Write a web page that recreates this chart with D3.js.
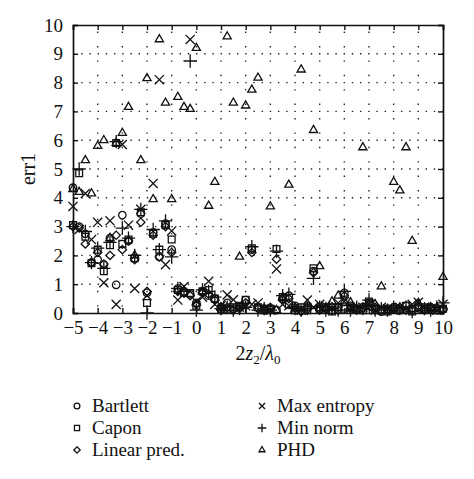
<!DOCTYPE html>
<html>
<head>
<meta charset="utf-8">
<script src="https://cdn.jsdelivr.net/npm/d3@7/dist/d3.min.js"></script>
<style>
  body { margin: 0; background: #fff; }
  svg text { font-family: "Liberation Serif", "Times New Roman", Times, serif; fill: #111; font-weight: normal; }
</style>
</head>
<body>
<div id="chart"></div>
<script>
// x positions shared by every method (step of 0.25 from -5 to 10)
var xs = d3.range(61).map(function(i) { return -5 + i * 0.25; });

var bartlett = [4.35, 3.0, 2.75, 1.75, 1.85, 1.68, 2.6, 0.98, 3.4, 2.5, 1.9, 3.45, 0.7, 2.8, 1.95, 3.1, 2.2, 0.85, 0.75, 0.65,
  0.35, 0.75, 0.6, 0.5, 0.2, 0.35, 0.15, 0.2, 0.45, 2.2, 0.2, 0.15, 0.1, 0.1, 0.5, 0.6, 0.25, 0.1, 0.15, 1.45,
  0.2, 0.15, 0.1, 0.2, 0.7, 0.25, 0.15, 0.2, 0.35, 0.1, 0.05, 0.15, 0.2, 0.15, 0.25, 0.1, 0.2, 0.15, 0.2, 0.1, 0.15];
var capon = [3.05, 4.85, 2.65, 1.73, 2.2, 1.45, 2.35, 5.9, 2.4, 2.55, 1.9, 3.5, 0.35, 2.75, 2.2, 3.05, 2.55, 0.8, 0.7, 0.69,
  0.25, 0.75, 0.8, 0.5, 0.15, 0.15, 0.2, 0.25, 0.46, 2.25, 0.2, 0.1, 0.15, 2.22, 0.55, 0.3, 0.1, 0.2, 0.1, 1.55,
  0.15, 0.2, 0.05, 0.2, 0.15, 0.2, 0.15, 0.1, 0.4, 0.15, 0.1, 0.05, 0.15, 0.1, 0.25, 0.05, 0.2, 0.2, 0.15, 0.1, 0.15];
var linearPred = [3.0, 2.95, 2.4, 1.75, 2.1, 1.7, 2.0, 2.7, 2.2, 2.5, 1.85, 3.15, 0.75, 2.7, 1.95, 3.0, 2.1, 0.75, 0.7, 0.6,
  0.3, 0.7, 0.65, 0.45, 0.1, 0.2, 0.1, 0.15, 0.35, 2.1, 0.15, 0.1, 0.2, 1.87, 0.45, 0.5, 0.2, 0.05, 0.2, 1.4,
  0.1, 0.15, 0.2, 0.1, 0.6, 0.15, 0.1, 0.15, 0.3, 0.2, 0.1, 0.1, 0.15, 0.2, 0.1, 0.15, 0.25, 0.1, 0.15, 0.2, 0.1];
var maxEntropy = [3.7, 2.9, 4.15, 2.55, 3.15, 1.05, 3.2, 0.3, 5.85, 3.05, 0.85, 3.6, 0.6, 4.5, 8.1, 1.68, 2.85, 0.45, 0.92, 9.5,
  0.4, 0.55, 1.1, 0.3, 0.25, 0.63, 0.46, 0.2, 0.25, 0.3, 0.35, 0.15, 0.1, 1.53, 0.3, 0.25, 0.15, 0.1, 0.45, 0.2,
  0.3, 0.25, 0.15, 0.35, 0.4, 0.2, 0.15, 0.2, 0.3, 0.1, 0.2, 0.15, 0.1, 0.2, 0.15, 0.3, 0.37, 0.2, 0.15, 0.1, 0.3];
var minNorm = [3.0, 5.0, 2.83, 1.75, 2.25, 1.55, 2.45, 5.95, 2.95, 2.6, 2.0, 3.6, 0.0, 2.9, 2.2, 3.2, 1.95, 0.85, 0.75, 8.75,
  0.1, 0.8, 0.75, 0.55, 0.15, 0.2, 0.1, 0.15, 0.2, 2.3, 0.1, 0.15, 0.1, 2.15, 0.6, 0.65, 0.15, 0.1, 0.15, 1.2,
  0.2, 0.1, 0.15, 0.1, 0.75, 0.1, 0.2, 0.15, 0.45, 0.1, 0.15, 0.1, 0.2, 0.15, 0.2, 0.05, 0.25, 0.15, 0.1, 0.2, 0.35];
var phd = [4.3, 4.2, 5.3, 4.15, 5.8, 6.0, 2.6, 5.9, 6.25, 7.15, 2.0, 5.3, 8.15, 3.95, 9.5, 7.3, 3.95, 7.5, 7.15, 7.08,
  9.2, 0.75, 3.72, 4.55, 0.2, 9.6, 7.3, 1.95, 7.2, 7.75, 8.17, 0.15, 3.7, 0.1, 0.55, 4.45, 0.15, 8.45, 0.3, 6.35,
  1.62, 0.2, 0.4, 0.6, 0.4, 0.37, 0.15, 5.75, 0.2, 0.3, 0.92, 0.1, 4.55, 4.25, 5.75, 2.5, 0.35, 0.1, 0.2, 0.15, 1.25];

var xTicks = d3.range(-5, 11, 1);
var yTicks = d3.range(0, 11, 1);

var series = [
  { name: "Bartlett", shape: "circle", values: bartlett },
  { name: "Capon", shape: "square", values: capon },
  { name: "Linear pred.", shape: "diamond", values: linearPred },
  { name: "Max entropy", shape: "cross", values: maxEntropy },
  { name: "Min norm", shape: "plus", values: minNorm },
  { name: "PHD", shape: "triangle", values: phd }
];

var width = 474, height = 479;
var margin = { top: 25, right: 31, bottom: 166, left: 73 };
var w = width - margin.left - margin.right,
    h = height - margin.top - margin.bottom;

var serif = "'Liberation Serif', 'Times New Roman', Times, serif";

var svg = d3.select("#chart").append("svg")
    .attr("width", width)
    .attr("height", height);

var g = svg.append("g")
    .attr("transform", "translate(" + margin.left + "," + margin.top + ")");

var x = d3.scaleLinear().domain([-5, 10]).range([0, w]);
var y = d3.scaleLinear().domain([0, 10]).range([h, 0]);

// dotted grid
g.append("g").selectAll("line")
    .data(xTicks.slice(1, -1))
    .enter().append("line")
    .attr("x1", function(d) { return x(d); })
    .attr("x2", function(d) { return x(d); })
    .attr("y1", 0).attr("y2", h)
    .attr("stroke", "#222").attr("stroke-width", 1.4)
    .attr("stroke-dasharray", "1.4,13")
    .attr("stroke-dashoffset", -6.6);
g.append("g").selectAll("line")
    .data(yTicks.slice(1, -1))
    .enter().append("line")
    .attr("y1", function(d) { return y(d); })
    .attr("y2", function(d) { return y(d); })
    .attr("x1", 0).attr("x2", w)
    .attr("stroke", "#222").attr("stroke-width", 1.4)
    .attr("stroke-dasharray", "1.4,6.8");

// axes with inward ticks
var xAxis = g.append("g").attr("transform", "translate(0," + h + ")")
    .call(d3.axisBottom(x).tickValues(xTicks).tickSize(-5).tickPadding(8)
      .tickFormat(function(d) { return d < 0 ? "\u2212" + Math.abs(d) : d; }));
var xTop = g.append("g")
    .call(d3.axisTop(x).tickValues(xTicks).tickSize(-5).tickFormat(""));
var yAxis = g.append("g")
    .call(d3.axisLeft(y).tickValues(yTicks).tickSize(-5).tickPadding(10));
var yRight = g.append("g").attr("transform", "translate(" + w + ",0)")
    .call(d3.axisRight(y).tickValues(yTicks).tickSize(-5).tickFormat(""));

[xAxis, xTop, yAxis, yRight].forEach(function(a) {
  a.attr("font-family", serif).attr("font-size", 19);
  a.select(".domain").attr("stroke", "#111").attr("stroke-width", 1.7);
  a.selectAll(".tick line").attr("stroke", "#111").attr("stroke-width", 1.4);
  a.selectAll(".tick text").attr("fill", "#111")
    .style("font-family", serif).style("font-size", "19px");
});

// marker shapes
var sym = {
  circle: d3.symbol().type(d3.symbolCircle).size(44),
  square: d3.symbol().type(d3.symbolSquare).size(46),
  diamond: d3.symbol().type(d3.symbolDiamond2).size(44),
  cross: d3.symbol().type(d3.symbolTimes).size(56),
  plus: d3.symbol().type(d3.symbolPlus).size(60),
  triangle: d3.symbol().type(d3.symbolTriangle2).size(48)
};

series.forEach(function(s) {
  g.append("g").selectAll("path")
    .data(s.values)
    .enter().append("path")
    .attr("d", sym[s.shape])
    .attr("transform", function(d, i) { return "translate(" + x(xs[i]) + "," + y(d) + ")"; })
    .attr("fill", "none")
    .attr("stroke", "#111")
    .attr("stroke-width", 1.3);
});

// axis titles
svg.append("text")
    .attr("transform", "translate(35," + (margin.top + h / 2) + ") rotate(-90)")
    .attr("text-anchor", "middle")
    .attr("font-family", serif)
    .style("font-size", "20px")
    .text("err1");

var xl = svg.append("text")
    .attr("x", margin.left + w / 2)
    .attr("y", 360)
    .attr("text-anchor", "middle")
    .attr("font-family", serif)
    .style("font-size", "20px");
xl.append("tspan").text("2");
xl.append("tspan").style("font-style", "italic").text("z");
xl.append("tspan").attr("dy", 4).style("font-size", "13px").text("2");
xl.append("tspan").attr("dy", -4).text("/");
xl.append("tspan").style("font-style", "italic").text("\u03bb");
xl.append("tspan").attr("dy", 4).style("font-size", "13px").text("0");

// legend
var legend = svg.append("g").attr("font-family", serif);
series.forEach(function(s, i) {
  var col = Math.floor(i / 3), row = i % 3;
  var lx = col === 0 ? 77 : 262, ly = 406 + row * 22;
  legend.append("path")
    .attr("d", sym[s.shape].size(26))
    .attr("transform", "translate(" + lx + "," + ly + ")")
    .attr("fill", "none").attr("stroke", "#111").attr("stroke-width", 1.3);
  legend.append("text")
    .attr("x", lx + 15).attr("y", ly + 6)
    .style("font-size", "19px")
    .text(s.name);
});
</script>
</body>
</html>
